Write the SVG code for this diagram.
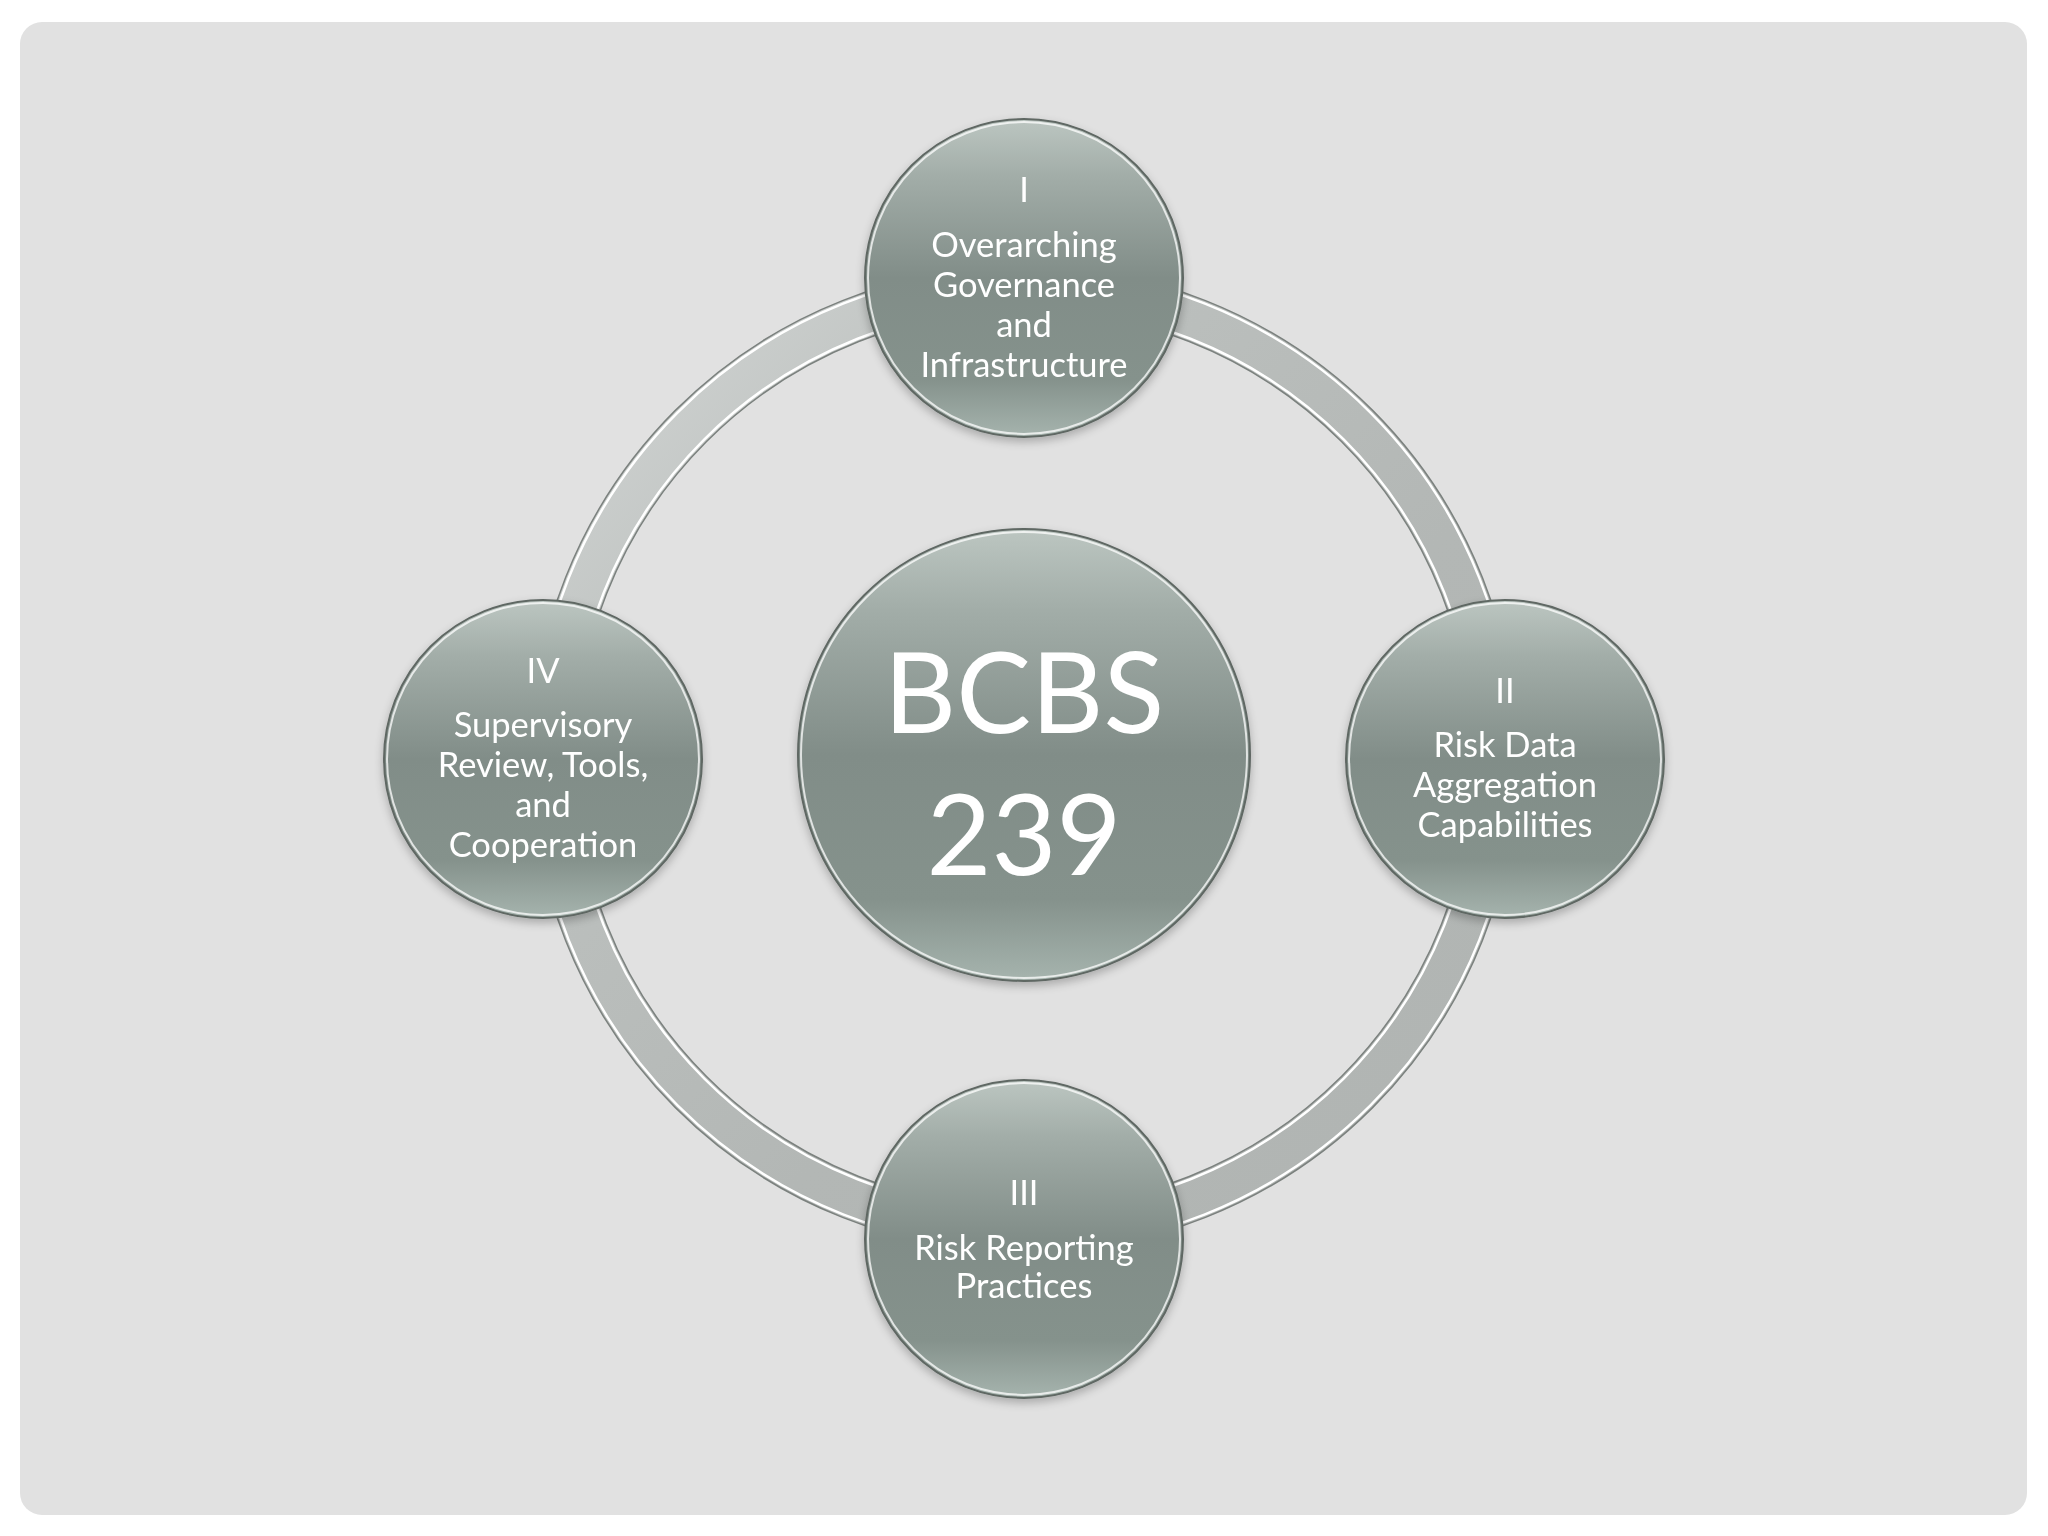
<svg xmlns="http://www.w3.org/2000/svg" width="2048" height="1536" viewBox="0 0 2048 1536">
  <defs>
    <linearGradient id="nodeFill" x1="0" y1="0" x2="0" y2="1">
      <stop offset="0" stop-color="#bcc6c1"/>
      <stop offset="0.18" stop-color="#a2ada8"/>
      <stop offset="0.5" stop-color="#818d88"/>
      <stop offset="0.82" stop-color="#85928c"/>
      <stop offset="1" stop-color="#a6b4ae"/>
    </linearGradient>
    <linearGradient id="ringFill" x1="0" y1="0" x2="1" y2="1">
      <stop offset="0" stop-color="#d6d9d8"/>
      <stop offset="0.3" stop-color="#bcc0be"/>
      <stop offset="0.6" stop-color="#b3b7b5"/>
      <stop offset="1" stop-color="#b0b4b2"/>
    </linearGradient>
    <filter id="shadow" x="-20%" y="-20%" width="140%" height="140%">
      <feGaussianBlur in="SourceAlpha" stdDeviation="5"/>
      <feOffset dx="0" dy="4" result="b"/>
      <feComponentTransfer><feFuncA type="linear" slope="0.25"/></feComponentTransfer>
      <feMerge><feMergeNode/><feMergeNode in="SourceGraphic"/></feMerge>
    </filter>
  </defs>
  <style>
    .node { fill: url(#nodeFill); stroke: #5f6763; stroke-width: 2; }
    .hl { fill: none; stroke: #ffffff; stroke-opacity: 0.75; stroke-width: 2; }
    .lbl { font-family: Lato, "Open Sans", "Liberation Sans", sans-serif; font-size: 34.5px; fill: #ffffff; text-anchor: middle; }
    .big { font-family: Lato, "Open Sans", "Liberation Sans", sans-serif; font-size: 112px; fill: #ffffff; text-anchor: middle; }
    .ringline { fill: none; stroke: #ffffff; stroke-width: 2.5; }
  </style>

  <rect x="0" y="0" width="2048" height="1536" fill="#ffffff"/>
  <rect x="20" y="22" width="2007" height="1493" rx="22" fill="#e1e1e1"/>

  <g id="connectors">
    <path d="M 531 759 a 493 493 0 1 0 986 0 a 493 493 0 1 0 -986 0 Z M 575 759 a 449 449 0 1 0 898 0 a 449 449 0 1 0 -898 0 Z" fill="url(#ringFill)" fill-rule="evenodd" stroke="#7b817e" stroke-width="1.5"/>
    <circle class="ringline" cx="1024" cy="759" r="490"/>
    <circle class="ringline" cx="1024" cy="759" r="452"/>
  </g>

  <g id="center" filter="url(#shadow)">
    <circle class="node" cx="1024" cy="755" r="226"/>
    <circle class="hl" cx="1024" cy="755" r="223"/>
    <text class="big" x="1024" y="733">BCBS</text>
    <text class="big" x="1024" y="875">239</text>
  </g>

  <g id="node-I" filter="url(#shadow)">
    <circle class="node" cx="1024" cy="278" r="159"/>
    <circle class="hl" cx="1024" cy="278" r="156"/>
    <text class="lbl" x="1024" y="202">I</text>
    <text class="lbl" x="1024" y="257">Overarching</text>
    <text class="lbl" x="1024" y="297">Governance</text>
    <text class="lbl" x="1024" y="337">and</text>
    <text class="lbl" x="1024" y="377">Infrastructure</text>
  </g>

  <g id="node-II" filter="url(#shadow)">
    <circle class="node" cx="1505" cy="759" r="159"/>
    <circle class="hl" cx="1505" cy="759" r="156"/>
    <text class="lbl" x="1505" y="703">II</text>
    <text class="lbl" x="1505" y="757">Risk Data</text>
    <text class="lbl" x="1505" y="797">Aggregation</text>
    <text class="lbl" x="1505" y="837">Capabilities</text>
  </g>

  <g id="node-III" filter="url(#shadow)">
    <circle class="node" cx="1024" cy="1239" r="159"/>
    <circle class="hl" cx="1024" cy="1239" r="156"/>
    <text class="lbl" x="1024" y="1205">III</text>
    <text class="lbl" x="1024" y="1260">Risk Reporting</text>
    <text class="lbl" x="1024" y="1298">Practices</text>
  </g>

  <g id="node-IV" filter="url(#shadow)">
    <circle class="node" cx="543" cy="759" r="159"/>
    <circle class="hl" cx="543" cy="759" r="156"/>
    <text class="lbl" x="543" y="683">IV</text>
    <text class="lbl" x="543" y="737">Supervisory</text>
    <text class="lbl" x="543" y="777">Review, Tools,</text>
    <text class="lbl" x="543" y="817">and</text>
    <text class="lbl" x="543" y="857">Cooperation</text>
  </g>
</svg>
